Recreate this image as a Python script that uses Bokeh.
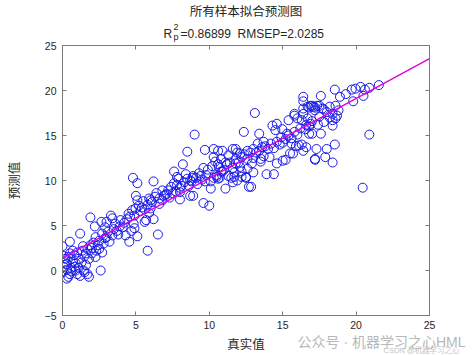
import math
from bokeh.plotting import figure
from bokeh.models import Range1d, LinearAxis, FixedTicker, Label
from bokeh.embed import file_html
from bokeh.resources import INLINE

# ---------------- data ----------------
points = [
    (0.0,2.7),(0.0,-0.2),(0.1,0.4),(0.1,1.6),(0.2,1.3),(0.3,0.7),(0.3,0.1),(0.4,-0.7),(0.3,-0.9),(0.5,-0.4),
    (0.5,3.2),(0.5,1.9),(0.6,0.3),(0.7,1.0),(0.8,0.4),(0.8,1.7),(0.9,0.8),(0.6,-0.1),(0.2,0.9),(0.4,1.5),
    (0.7,2.2),(0.9,0.0),
    (1.0,-0.4),(1.0,2.0),(1.1,1.3),(1.2,4.1),(1.2,-0.6),(1.3,0.9),(1.35,2.2),(1.45,0.0),(1.5,1.6),(1.6,0.6),
    (1.7,-0.4),(1.7,2.4),(1.8,-0.7),(1.8,1.3),(1.9,2.8),(1.9,5.9),(1.4,2.7),(1.6,1.9),(1.1,0.3),(1.5,-0.2),
    (2.0,1.9),(2.1,3.1),(2.2,4.9),(2.25,3.7),(2.25,1.5),(2.4,2.8),(2.5,3.3),(2.5,2.4),(2.6,0.0),(2.65,5.4),
    (2.7,4.1),(2.8,3.0),(2.9,4.8),(2.3,2.2),(2.0,2.5),(2.7,2.0),(2.9,3.6),
    (3.0,5.4),(3.0,3.7),(3.2,3.2),(3.3,6.1),(3.4,5.8),(3.4,3.9),(3.5,4.6),(3.6,5.2),(3.7,4.4),(3.95,5.6),
    (3.8,4.0),(3.1,4.3),(3.9,4.9),
    (4.1,4.8),(4.3,3.9),(4.4,5.7),(4.5,6.3),(4.55,3.2),(4.7,4.4),(4.75,6.7),(4.8,10.3),(4.85,5.2),(4.9,4.7),
    (4.97,6.9),(4.6,6.0),(4.2,5.3),(4.9,6.1),
    (5.0,8.3),(5.1,7.8),(5.1,9.7),(5.1,3.8),(5.2,7.2),(5.5,7.7),(5.6,5.4),(5.7,5.6),(5.8,2.2),(5.9,8.0),
    (5.3,6.6),(5.4,7.0),(5.6,6.8),(5.8,7.3),(5.9,6.4),
    (6.0,7.8),(6.1,7.6),(6.2,5.7),(6.2,9.9),(6.3,8.2),(6.5,4.0),(6.6,7.4),(6.8,7.8),(6.8,8.9),(6.9,8.3),
    (6.4,8.6),(6.6,8.0),(6.0,6.9),
    (7.0,8.4),(7.1,8.5),(7.2,8.9),(7.3,8.1),(7.4,9.3),(7.6,11.0),(7.6,9.7),(7.8,10.4),(7.8,9.5),(7.7,8.8),
    (7.9,10.2),(7.5,8.6),
    (8.0,7.9),(8.0,8.7),(8.0,9.2),(8.1,9.4),(8.2,11.8),(8.3,9.8),(8.4,10.7),(8.5,13.2),(8.5,10.2),(8.7,8.3),
    (8.7,10.0),(8.8,9.9),(8.9,8.3),(8.9,10.5),(8.9,10.3),(8.6,9.4),
    (9.0,15.1),(9.1,10.3),(9.3,10.8),(9.4,10.5),(9.5,10.1),(9.6,11.4),(9.6,7.5),(9.7,13.4),(9.8,10.6),(9.9,11.2),
    (10.0,7.2),(9.2,9.6),(9.7,9.9),
    (10.1,9.1),(10.1,9.9),(10.2,11.6),(10.3,13.5),(10.3,10.3),(10.4,12.1),(10.5,10.4),(10.5,10.6),(10.6,13.3),(10.6,11.8),
    (10.65,11.5),(10.6,10.2),(10.7,10.3),(10.8,12.4),(10.9,13.3),(10.9,11.0),(10.3,12.6),(10.8,11.0),
    (11.0,11.2),(11.1,12.0),(11.1,9.1),(11.2,11.8),(11.3,12.8),(11.3,10.5),(11.4,12.0),(11.5,10.3),(11.6,13.5),(11.6,9.8),
    (11.6,11.4),(11.7,10.4),(11.7,10.9),(11.8,13.5),(11.8,11.9),(11.8,12.4),(11.9,13.1),(11.9,10.0),
    (12.0,12.0),(12.1,13.0),(12.1,11.5),(12.2,11.0),(12.2,10.4),(12.2,12.6),(12.35,15.4),(12.4,12.9),(12.5,10.4),(12.5,10.3),
    (12.6,12.4),(12.6,13.3),(12.6,11.3),(12.7,9.3),(12.8,13.1),(12.85,9.3),(12.9,11.9),
    (13.0,13.5),(13.0,10.9),(13.0,12.5),(13.1,17.5),(13.2,13.1),(13.3,14.1),(13.4,15.2),(13.4,13.3),(13.5,12.1),(13.6,13.7),
    (13.7,14.3),(13.7,12.7),(13.8,13.8),(13.9,10.7),(13.5,12.4),
    (14.0,13.5),(14.1,12.6),(14.2,14.1),(14.3,16.1),(14.4,10.7),(14.4,13.6),(14.5,15.6),(14.6,16.3),(14.6,11.9),(14.6,14.3),
    (14.8,14.0),(14.9,14.8),(14.97,15.7),
    (15.0,12.2),(15.0,14.2),(15.2,12.3),(15.2,14.6),(15.3,15.2),(15.4,16.7),(15.4,15.0),(15.5,13.0),(15.6,14.1),(15.6,14.7),
    (15.7,13.0),(15.8,17.2),(15.8,17.4),(15.8,15.4),(15.9,13.8),
    (16.0,16.9),(16.0,15.1),(16.1,13.9),(16.2,15.8),(16.3,16.7),(16.3,14.0),(16.4,17.4),(16.4,19.3),(16.4,18.8),(16.4,18.0),
    (16.4,13.3),(16.55,15.7),(16.6,13.7),(16.6,16.2),(16.7,18.2),(16.7,16.9),(16.8,18.1),(16.8,15.2),(16.9,18.3),(16.9,16.3),
    (16.8,16.0),
    (17.0,18.3),(17.0,15.2),(17.0,16.6),(17.1,18.2),(17.2,18.1),(17.2,17.8),(17.2,12.3),(17.2,12.4),(17.35,18.3),(17.3,13.5),
    (17.4,16.2),(17.5,18.3),(17.5,17.1),(17.6,15.2),(17.6,19.4),(17.7,18.0),(17.8,17.9),(17.8,16.5),(17.9,12.6),(18.0,13.5),
    (18.0,17.6),(18.2,18.2),(18.2,17.0),(18.4,17.4),(18.4,16.7),(18.4,16.1),(18.4,12.0),(18.55,20.1),(18.55,14.0),(18.6,18.3),
    (18.6,16.9),(18.7,17.2),(18.9,19.3),(18.8,17.8),
    (19.3,19.6),(19.7,20.1),(19.8,18.8),(19.96,20.2),(20.3,20.4),(20.45,9.2),(20.5,19.4),(20.6,20.1),(20.9,20.3),(20.9,15.1),
    (21.55,20.6),
]
true_vals = [p_[0] for p_ in points]
pred_vals = [p_[1] for p_ in points]

fit_x = [0, 25]
fit_y = [1.4, 23.55]

x_ticks = [0, 5, 10, 15, 20, 25]
y_ticks = [-5, 0, 5, 10, 15, 20, 25]

title_cn = "所有样本拟合预测图"
r2_value = "0.86899"
rmsep_value = "2.0285"
x_label = "真实值"
y_label = "预测值"
watermark1 = "公众号 · 机器学习之心HML"
watermark2 = "CSDN @机器学习之心"

# ---------------- figure ----------------
AX = "#7a7a7a"
TXT = "#262626"

p = figure(width=474, height=355, output_backend="svg", toolbar_location=None,
           x_range=Range1d(0, 25), y_range=Range1d(-5, 25),
           min_border_left=62, min_border_right=45, min_border_top=45, min_border_bottom=40,
           x_axis_location=None, y_axis_location=None)
p.grid.visible = False
p.outline_line_color = AX
p.background_fill_color = "white"
p.border_fill_color = "white"

def make_axis(ticks, show_labels, standoff=6):
    ax = LinearAxis(ticker=FixedTicker(ticks=ticks))
    ax.axis_line_color = AX
    ax.major_tick_line_color = AX
    ax.major_tick_in = 4
    ax.major_tick_out = 0
    ax.minor_tick_line_color = None
    ax.major_label_text_font = "Liberation Sans"
    ax.major_label_text_font_size = "10.5px"
    ax.major_label_text_color = TXT if show_labels else None
    ax.major_label_standoff = standoff if show_labels else 0
    return ax

p.add_layout(make_axis(x_ticks, True, 5), "below")
p.add_layout(make_axis(y_ticks, True, 6), "left")
p.add_layout(make_axis(x_ticks, False), "above")
p.add_layout(make_axis(y_ticks, False), "right")

p.scatter(true_vals, pred_vals, marker="circle", size=9, fill_color=None,
          line_color="#1a1ae6", line_width=1)
p.line(fit_x, fit_y, line_color="#e000e0", line_width=1.4)

# ---------------- texts (canvas pixel positions; placed in side panels so they are not clipped) ----------------
def lab(side, x, y, text, size, font="Liberation Sans", color=TXT, align="left",
        baseline="alphabetic", angle=0.0):
    p.add_layout(Label(x=x, y=y, x_units="canvas", y_units="canvas", text=text,
                       text_font=font, text_font_size=size,
                       text_color=color, text_align=align, text_baseline=baseline,
                       angle=angle), side)

CJK = "Liberation Sans, Noto Sans CJK SC"
lab("above", 245.5, 11, title_cn, "12.5px", font=CJK, align="center", baseline="middle")
lab("above", 163, 33, "R\u2002\u2009=" + r2_value + "\u00a0\u00a0RMSEP=" + rmsep_value, "12px")
lab("above", 297, 341, watermark1, "14px", font=CJK, color="#b8b8b8")
lab("right", 173, 26, "2", "9px")
lab("right", 173, 36, "p", "9px")
lab("below", 245.5, 344.5, x_label, "12.5px", font=CJK, align="center", baseline="middle")
lab("below", 383, 350, watermark2, "7.5px", font=CJK, color="#c4c4c4")
lab("left", 14, 180, y_label, "12.5px", font=CJK, align="center", baseline="middle",
    angle=math.pi / 2)

open("out.html", "w").write(file_html(p, INLINE))
